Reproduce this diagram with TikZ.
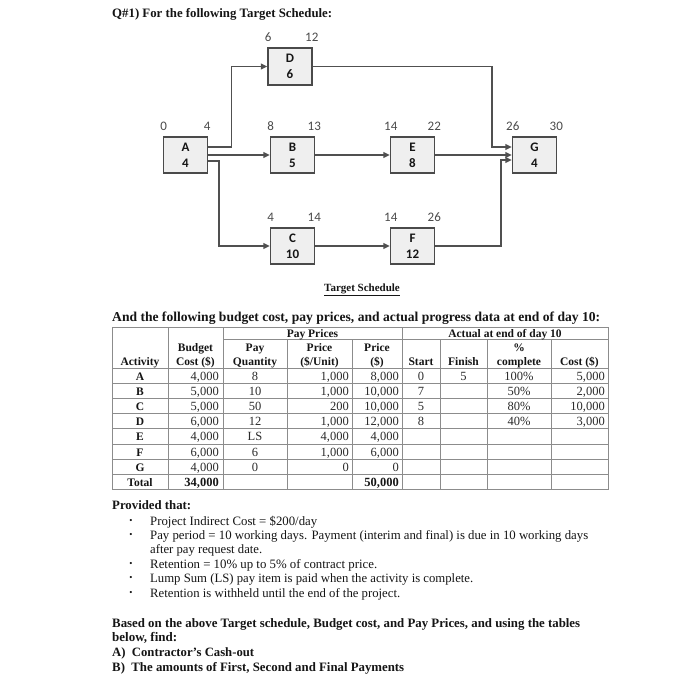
\documentclass[tikz,border=0pt]{standalone}
\usepackage{fontspec}
\setmainfont{Liberation Serif}
\newfontfamily\carl{Carlito}
\usetikzlibrary{arrows.meta,calc}
\definecolor{boxfill}{HTML}{EFEFEF}
\definecolor{boxline}{HTML}{4A4A4A}
\definecolor{conncol}{HTML}{505050}
\definecolor{gridcol}{HTML}{8C8C8C}
\definecolor{txt}{HTML}{151515}
\definecolor{celltxt}{HTML}{2A2A2A}
\newcommand\fitto[2]{\resizebox{#1}{!}{#2}}
\begin{document}
\begin{tikzpicture}[x=1pt,y=-1pt,
  actbox/.style={draw=boxline, fill=boxfill, line width=1.5pt, minimum width=44pt, minimum height=36pt, inner sep=0pt, align=center, font=\carl\bfseries\fontsize{13}{16}\selectfont, text=txt},
  estlabel/.style={font=\carl\fontsize{13}{14}\selectfont, text=boxline, inner sep=0pt},
  conn/.style={draw=conncol, line width=1.5pt, -{Triangle[length=6.5pt,width=6pt]}},
  grid/.style={draw=gridcol, line width=0.8pt},
  prose/.style={anchor=base west, inner sep=0pt, text=txt},
  hd/.style={inner sep=0pt, anchor=base, font=\bfseries\fontsize{11.5}{13}\selectfont, text=txt},
  cellc/.style={inner sep=0pt, anchor=base, font=\fontsize{12.5}{14}\selectfont, text=celltxt},
  cellr/.style={inner sep=0pt, anchor=base east, font=\fontsize{12.5}{14}\selectfont, text=celltxt},
  bul/.style={inner sep=0pt, anchor=center, font=\fontsize{9}{9}\selectfont, text=txt}
]
\useasboundingbox[fill=white] (0,0) rectangle (691,700);

% title
\node[prose] (title) at (112,17.5) {\fitto{220pt}{\bfseries Q\#1) For the following Target Schedule:}};

% network
\node[actbox] (A) at (185.5,155) {A\\4};
\node[actbox] (B) at (292.5,155) {B\\5};
\node[actbox] (E) at (412.5,155) {E\\8};
\node[actbox] (G) at (534.5,155) {G\\4};
\node[actbox, minimum height=37pt] (D) at (290,66.5) {D\\6};
\node[actbox] (C) at (292.5,246) {C\\10};
\node[actbox] (F) at (412.5,246) {F\\12};

\foreach \n/\l/\r in {A/0/4, B/8/13, E/14/22, G/26/30, D/6/12, C/4/14, F/14/26}{
  \node[estlabel] (\n es) at ($(\n.north west)+(1,-10)$) {\l};
  \node[estlabel] (\n ef) at ($(\n.north east)+(-1,-10)$) {\r};
}

\draw[conn] ($(A.east)+(0,-8)$) -| ($(D.west)+(-36,0)$) -- (D.west);
\draw[conn] (A.east) -- (B.west);
\draw[conn] ($(A.east)+(0,6)$) -| ($(C.west)+(-51,0)$) -- (C.west);
\draw[conn] (B.east) -- (E.west);
\draw[conn] (C.east) -- (F.west);
\draw[conn] (E.east) -- (G.west);
\draw[conn] (D.east) -| ($(G.west)+(-20,-8)$) -- ($(G.west)+(0,-8)$);
\draw[conn] (F.east) -| ($(G.west)+(-11,5)$) -- ($(G.west)+(0,5)$);

\node[inner sep=0pt, font=\bfseries\fontsize{11}{13}\selectfont, text=txt] (cap) at (362,290) {\underline{Target Schedule}};

% intro line
\node[prose] (intro) at (112,321.5) {\fitto{488pt}{\bfseries And the following budget cost, pay prices, and actual progress data at end of day 10:}};

% table grid
\foreach \x in {112,168,223,402,608} \draw[grid] (\x,327) -- (\x,489.6);
\foreach \x in {287,352,440,487,551} \draw[grid] (\x,339) -- (\x,489.6);
\draw[grid] (112,327) -- (608,327);
\draw[grid] (223,339) -- (608,339);
\foreach \k in {0,...,8} \draw[grid] (112,368+15.2*\k) -- (608,368+15.2*\k);

% headers
\node[hd] (hpp) at (312.5,337) {Pay Prices};
\node[hd] (hact) at (505,337) {Actual at end of day 10};
\node[hd] (hactv) at (140,365) {Activity};
\node[hd] (hbud1) at (195.5,351) {Budget};
\node[hd] (hbud2) at (195.5,365) {Cost (\$)};
\node[hd] (hpq1) at (255,351) {Pay};
\node[hd] (hpq2) at (255,365) {Quantity};
\node[hd] (hpu1) at (319.5,351) {Price};
\node[hd] (hpu2) at (319.5,365) {(\$/Unit)};
\node[hd] (hpr1) at (377,351) {Price};
\node[hd] (hpr2) at (377,365) {(\$)};
\node[hd] (hst) at (421,365) {Start};
\node[hd] (hfi) at (463.5,365) {Finish};
\node[hd] (hpc1) at (519,351) {\%};
\node[hd] (hpc2) at (519,365) {complete};
\node[hd] (hco) at (579.5,365) {Cost (\$)};

% rows
\foreach \va/\vb/\vc/\vd/\ve/\vf/\vg/\vh/\vk [count=\i from 0] in {
  A/{4,000}/8/{1,000}/{8,000}/0/5/100\%/{5,000},
  B/{5,000}/10/{1,000}/{10,000}/7/{}/50\%/{2,000},
  C/{5,000}/50/200/{10,000}/5/{}/80\%/{10,000},
  D/{6,000}/12/{1,000}/{12,000}/8/{}/40\%/{3,000},
  E/{4,000}/LS/{4,000}/{4,000}/{}/{}/{}/{},
  F/{6,000}/6/{1,000}/{6,000}/{}/{}/{}/{},
  G/{4,000}/0/0/0/{}/{}/{}/{}}{
  \pgfmathsetmacro\yb{375.6+15.2*\i+4.4}
  \node[hd] (act\i) at (140,\yb) {\va};
  \node[cellr] (bud\i) at (219,\yb) {\vb};
  \node[cellc] (pq\i) at (255,\yb) {\vc};
  \node[cellr] (pu\i) at (349,\yb) {\vd};
  \node[cellr] (pr\i) at (399,\yb) {\ve};
  \node[cellc] (st\i) at (421,\yb) {\vf};
  \node[cellc] (fin\i) at (463.5,\yb) {\vg};
  \node[cellc] (pc\i) at (519,\yb) {\vh};
  \node[cellr] (co\i) at (605,\yb) {\vk};
}
\node[hd] (tot) at (140,486.4) {Total};
\node[hd, anchor=base east, font=\bfseries\fontsize{12.5}{14}\selectfont] (totb) at (219,486.4) {34,000};
\node[hd, anchor=base east, font=\bfseries\fontsize{12.5}{14}\selectfont] (totp) at (399,486.4) {50,000};

% provided that
\node[prose] (prov) at (112,509) {\fitto{79pt}{\bfseries Provided that:}};
\foreach \yy [count=\j] in {521,535,564,578,593}
  \node[bul] (b\j) at (131,\yy) {\textbullet};
\node[prose] (p1) at (150,525) {\fitto{167pt}{Project Indirect Cost = \$200/day}};
\node[prose] (p2) at (150,539.5) {\fitto{438pt}{Pay period = 10 working days. Payment (interim and final) is due in 10 working days}};
\node[prose] (p2b) at (150,553.5) {\fitto{112pt}{after pay request date.}};
\node[prose] (p3) at (150,568) {\fitto{227pt}{Retention = 10\% up to 5\% of contract price.}};
\node[prose] (p4) at (150,582.5) {\fitto{323pt}{Lump Sum (LS) pay item is paid when the activity is complete.}};
\node[prose] (p5) at (150,597) {\fitto{250pt}{Retention is withheld until the end of the project.}};

% based on
\node[prose] (q1) at (112,627) {\fitto{468pt}{\bfseries Based on the above Target schedule, Budget cost, and Pay Prices, and using the tables}};
\node[prose] (q2) at (112,641.5) {\fitto{65pt}{\bfseries below, find:}};
\node[prose] (q3) at (112,656.5) {\fitto{142pt}{\bfseries A)\hspace{0.5em}Contractor's Cash-out}};
\node[prose] (q4) at (112,671) {\fitto{292pt}{\bfseries B)\hspace{0.5em}The amounts of First, Second and Final Payments}};
\end{tikzpicture}
\end{document}
